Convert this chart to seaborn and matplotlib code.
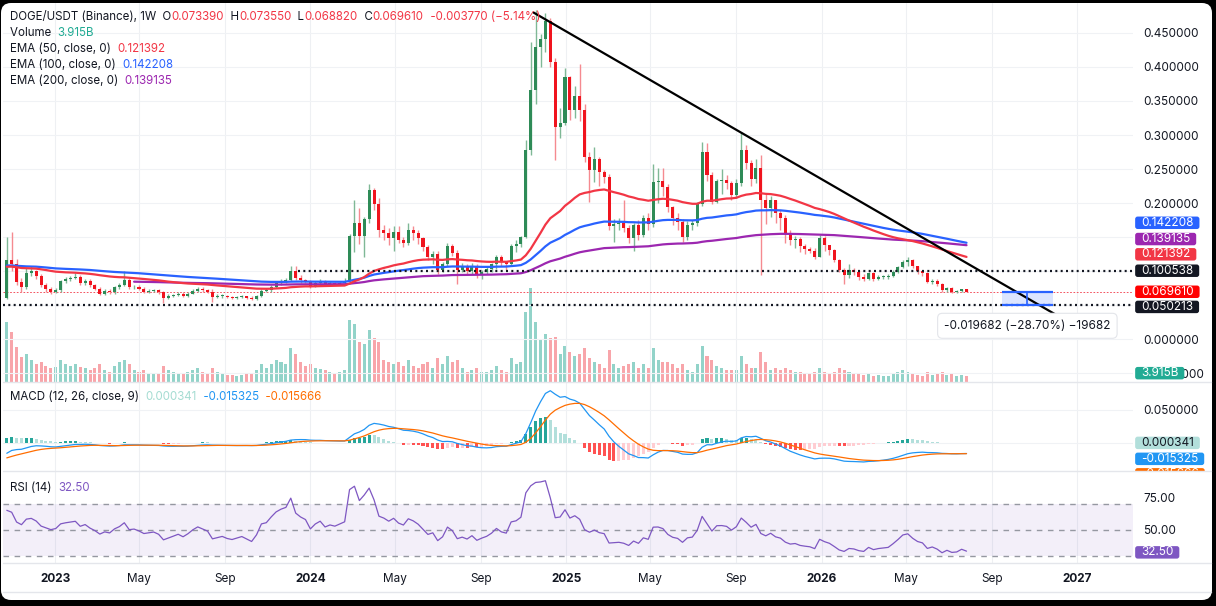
import numpy as np
import pandas as pd
import matplotlib
matplotlib.use("Agg")
import matplotlib.pyplot as plt
from matplotlib.patches import FancyBboxPatch, Rectangle, BoxStyle
from matplotlib.lines import Line2D
from matplotlib.transforms import IdentityTransform, Bbox
from matplotlib.offsetbox import TextArea, HPacker, AnchoredOffsetbox
import matplotlib.dates as mdates
import seaborn as sns

sns.set_theme(style="white")
plt.rcParams["font.family"] = ["Inter", "DejaVu Sans"]
plt.rcParams["axes.unicode_minus"] = False

# ---- weekly DOGE/USDT candles (Binance) ----
first_week = "2022-10-24"
first_open = 0.060

closes = [
    0.116, 0.111, 0.084, 0.076, 0.097, 0.100, 0.093, 0.079, 0.074, 0.069,
    0.072, 0.085, 0.088, 0.090, 0.092, 0.082, 0.086, 0.079, 0.074, 0.067,
    0.071, 0.069, 0.076, 0.080, 0.087, 0.076, 0.077, 0.074, 0.070, 0.071,
    0.072, 0.069, 0.061, 0.063, 0.065, 0.067, 0.064, 0.067, 0.071, 0.074,
    0.072, 0.070, 0.062, 0.063, 0.064, 0.062, 0.061, 0.062, 0.063, 0.061,
    0.059, 0.063, 0.071, 0.072, 0.077, 0.082, 0.085, 0.087, 0.100, 0.090,
    0.087, 0.085, 0.077, 0.082, 0.085, 0.080, 0.082, 0.081, 0.083, 0.085,
    0.152, 0.170, 0.152, 0.176, 0.219, 0.198, 0.161, 0.156, 0.148, 0.158,
    0.146, 0.141, 0.161, 0.156, 0.148, 0.135, 0.121, 0.125, 0.102, 0.111,
    0.137, 0.127, 0.102, 0.106, 0.100, 0.108, 0.094, 0.099, 0.103, 0.110,
    0.121, 0.113, 0.110, 0.137, 0.140, 0.150, 0.278, 0.366, 0.430, 0.441,
    0.468, 0.408, 0.312, 0.318, 0.385, 0.337, 0.358, 0.337, 0.268, 0.249,
    0.264, 0.246, 0.239, 0.167, 0.169, 0.171, 0.164, 0.148, 0.168, 0.153,
    0.178, 0.169, 0.231, 0.232, 0.224, 0.194, 0.178, 0.172, 0.150, 0.168,
    0.171, 0.199, 0.275, 0.241, 0.202, 0.233, 0.234, 0.230, 0.212, 0.229,
    0.278, 0.259, 0.236, 0.251, 0.205, 0.192, 0.204, 0.185, 0.178, 0.156,
    0.145, 0.147, 0.137, 0.133, 0.130, 0.121, 0.148, 0.138, 0.131, 0.117,
    0.101, 0.094, 0.101, 0.099, 0.092, 0.089, 0.097, 0.089, 0.091, 0.092,
    0.093, 0.099, 0.106, 0.114, 0.116, 0.107, 0.100, 0.097, 0.084, 0.086,
    0.081, 0.072, 0.075, 0.070, 0.0705, 0.07339, 0.06961,
]
highs = [
    0.150, 0.158, 0.118, 0.090, 0.104, 0.108, 0.102, 0.095, 0.082, 0.077,
    0.075, 0.087, 0.091, 0.093, 0.097, 0.094, 0.089, 0.088, 0.081, 0.076,
    0.074, 0.073, 0.078, 0.083, 0.100, 0.090, 0.080, 0.079, 0.076, 0.073,
    0.073, 0.073, 0.071, 0.066, 0.067, 0.069, 0.069, 0.069, 0.073, 0.077,
    0.076, 0.074, 0.073, 0.066, 0.066, 0.065, 0.064, 0.064, 0.065, 0.064,
    0.063, 0.065, 0.073, 0.075, 0.079, 0.084, 0.088, 0.090, 0.107, 0.108,
    0.094, 0.089, 0.087, 0.086, 0.088, 0.087, 0.085, 0.084, 0.086, 0.090,
    0.155, 0.205, 0.192, 0.180, 0.228, 0.222, 0.207, 0.168, 0.163, 0.167,
    0.166, 0.150, 0.170, 0.166, 0.160, 0.150, 0.138, 0.130, 0.129, 0.113,
    0.142, 0.140, 0.131, 0.112, 0.110, 0.112, 0.110, 0.101, 0.107, 0.112,
    0.124, 0.124, 0.115, 0.140, 0.145, 0.152, 0.292, 0.437, 0.484, 0.449,
    0.479, 0.472, 0.413, 0.340, 0.398, 0.387, 0.372, 0.405, 0.345, 0.275,
    0.283, 0.268, 0.248, 0.242, 0.176, 0.178, 0.205, 0.168, 0.171, 0.175,
    0.183, 0.186, 0.258, 0.252, 0.251, 0.228, 0.196, 0.186, 0.176, 0.173,
    0.175, 0.202, 0.289, 0.288, 0.246, 0.236, 0.250, 0.241, 0.233, 0.236,
    0.305, 0.286, 0.263, 0.265, 0.270, 0.215, 0.210, 0.205, 0.190, 0.182,
    0.160, 0.152, 0.150, 0.140, 0.135, 0.134, 0.153, 0.151, 0.139, 0.133,
    0.118, 0.104, 0.110, 0.104, 0.102, 0.096, 0.099, 0.098, 0.094, 0.094,
    0.095, 0.101, 0.108, 0.116, 0.120, 0.118, 0.108, 0.102, 0.098, 0.089,
    0.088, 0.082, 0.077, 0.076, 0.072, 0.0742, 0.07355,
]
lows = [
    0.059, 0.100, 0.080, 0.070, 0.073, 0.093, 0.088, 0.076, 0.070, 0.066,
    0.068, 0.070, 0.083, 0.086, 0.089, 0.079, 0.080, 0.077, 0.072, 0.065,
    0.065, 0.067, 0.067, 0.074, 0.078, 0.074, 0.074, 0.072, 0.068, 0.068,
    0.069, 0.067, 0.053, 0.059, 0.062, 0.063, 0.062, 0.062, 0.066, 0.069,
    0.069, 0.068, 0.055, 0.060, 0.061, 0.060, 0.059, 0.059, 0.060, 0.059,
    0.057, 0.058, 0.062, 0.069, 0.070, 0.075, 0.080, 0.083, 0.085, 0.087,
    0.083, 0.082, 0.075, 0.076, 0.080, 0.078, 0.078, 0.079, 0.080, 0.082,
    0.084, 0.128, 0.140, 0.120, 0.170, 0.190, 0.150, 0.146, 0.138, 0.130,
    0.142, 0.135, 0.138, 0.146, 0.140, 0.130, 0.116, 0.110, 0.095, 0.098,
    0.108, 0.122, 0.081, 0.098, 0.095, 0.095, 0.090, 0.089, 0.095, 0.099,
    0.103, 0.108, 0.102, 0.108, 0.128, 0.135, 0.148, 0.270, 0.345, 0.400,
    0.422, 0.400, 0.263, 0.295, 0.315, 0.322, 0.325, 0.320, 0.260, 0.202,
    0.231, 0.225, 0.229, 0.160, 0.143, 0.160, 0.158, 0.142, 0.130, 0.145,
    0.150, 0.160, 0.165, 0.200, 0.210, 0.187, 0.168, 0.160, 0.143, 0.145,
    0.160, 0.166, 0.195, 0.232, 0.198, 0.200, 0.214, 0.220, 0.205, 0.208,
    0.225, 0.250, 0.225, 0.230, 0.094, 0.169, 0.180, 0.170, 0.160, 0.142,
    0.138, 0.134, 0.128, 0.125, 0.127, 0.118, 0.120, 0.130, 0.124, 0.113,
    0.098, 0.081, 0.090, 0.094, 0.087, 0.085, 0.087, 0.086, 0.087, 0.088,
    0.089, 0.092, 0.097, 0.104, 0.108, 0.105, 0.095, 0.093, 0.082, 0.081,
    0.078, 0.070, 0.069, 0.068, 0.068, 0.0695, 0.06882,
]
# weekly volume, billions of DOGE
volume_b = [
    39.0, 32.5, 22.8, 16.3, 18.2, 14.3, 11.7, 13.0, 10.4, 9.1,
    9.8, 14.3, 11.7, 10.4, 11.7, 9.8, 9.1, 7.8, 9.1, 11.7,
    7.8, 6.5, 10.4, 13.0, 14.3, 11.7, 7.8, 6.5, 7.8, 5.9,
    5.2, 5.9, 10.4, 7.8, 6.5, 5.9, 5.9, 6.5, 7.8, 9.1,
    6.5, 5.2, 9.1, 6.5, 5.2, 4.6, 4.6, 3.9, 4.6, 5.2,
    5.9, 7.8, 11.7, 9.1, 11.7, 14.3, 13.0, 11.7, 22.1, 18.2,
    13.0, 10.4, 11.7, 9.1, 8.5, 7.8, 6.5, 5.9, 6.5, 7.8,
    40.3, 37.7, 26.0, 24.7, 33.8, 28.6, 26.0, 14.3, 13.0, 11.7,
    13.0, 10.4, 14.3, 10.4, 9.1, 11.7, 13.0, 9.1, 15.6, 11.7,
    16.9, 13.0, 14.3, 9.1, 6.5, 7.8, 9.1, 6.5, 6.5, 7.8,
    10.4, 7.8, 6.5, 15.6, 11.7, 13.0, 45.5, 60.5, 39.0, 27.3,
    31.2, 28.6, 29.3, 18.2, 23.4, 19.5, 16.9, 18.2, 22.1, 15.6,
    13.0, 11.7, 9.1, 20.8, 11.7, 9.1, 10.4, 11.7, 13.0, 9.1,
    11.7, 9.1, 22.1, 14.3, 13.0, 13.0, 11.7, 9.1, 11.7, 7.8,
    6.5, 11.7, 23.4, 16.9, 14.3, 10.4, 9.1, 7.8, 7.8, 7.8,
    16.9, 11.7, 9.1, 9.1, 19.5, 13.0, 7.8, 9.1, 7.8, 9.1,
    7.8, 6.5, 6.5, 5.2, 5.2, 6.5, 9.1, 6.5, 5.2, 6.5,
    9.1, 7.8, 6.5, 5.2, 5.2, 4.6, 5.2, 3.9, 4.6, 3.9,
    3.9, 5.2, 6.5, 7.8, 6.5, 5.2, 4.6, 3.9, 6.5, 4.6,
    5.2, 6.5, 4.6, 5.2, 3.9, 4.6, 3.915,
]

# indicator state carried in from the history before the first visible bar
ema50_seed = 0.106
ema100_seed = 0.108
ema200_first_bar = 26
ema200_seed = 0.0845
macd_seeds = (0.064, 0.085, -0.024)   # ema12, ema26, signal
rsi_seeds = (0.007, 0.006)            # avg gain, avg loss

# drawings on the chart
trend_dates = ["2024-11-15", "2026-12-11"]
trend_prices = [0.480, 0.0304]
level_hi, level_hi_from = 0.100538, "2023-12-15"
level_lo = 0.050213
last_price = 0.069610
range_dates = ["2026-09-16", "2026-11-27"]
range_label = "-0.019682 (\u221228.70%) \u221219682"

tick_dates = ["2023-01-01", "2023-05-01", "2023-09-01", "2024-01-01", "2024-05-01",
              "2024-09-01", "2025-01-01", "2025-05-01", "2025-09-01", "2026-01-01",
              "2026-05-01", "2026-09-01", "2027-01-01"]
tick_text = ["2023", "May", "Sep", "2024", "May", "Sep", "2025", "May", "Sep",
             "2026", "May", "Sep", "2027"]

# ---- derived series ----
dates = pd.date_range(first_week, periods=len(closes), freq="7D")
c = np.array(closes)
o = np.r_[first_open, c[:-1]]
h = np.array(highs)
l = np.array(lows)
up = c >= o


def ema(vals, n, seed):
    a = 2.0 / (n + 1)
    out, prev = [], seed
    for v in vals:
        prev = prev + a * (v - prev)
        out.append(prev)
    return np.array(out)


ema50 = ema(c, 50, ema50_seed)
ema100 = ema(c, 100, ema100_seed)
ema200 = np.full(len(c), np.nan)
ema200[ema200_first_bar:] = ema(c[ema200_first_bar:], 200, ema200_seed)

macd = ema(c, 12, macd_seeds[0]) - ema(c, 26, macd_seeds[1])
signal = ema(macd, 9, macd_seeds[2])
hist = macd - signal

ag, al = rsi_seeds
rsi = []
for d in np.diff(np.r_[first_open, c]):
    ag = (ag * 13 + max(d, 0)) / 14
    al = (al * 13 + max(-d, 0)) / 14
    rsi.append(100 - 100 / (1 + ag / al))

ind = pd.DataFrame({"date": dates, "ema50": ema50, "ema100": ema100, "ema200": ema200,
                    "macd": macd, "signal": signal, "rsi": rsi})

# ---- figure ----
W, H = 1216, 606
UP, DN = "#2e8b57", "#f0141e"
TXT = "#131722"
fig = plt.figure(figsize=(W / 100, H / 100), dpi=100, facecolor="black")
panel = FancyBboxPatch((1, 6), 1211, 597, boxstyle="round,pad=0,rounding_size=10",
                       transform=IdentityTransform(), facecolor="white", edgecolor="none", zorder=-10)
fig.add_artist(panel)


def px_axes(top, bottom, share=None):
    return fig.add_axes([3 / W, 1 - bottom / H, 1130 / W, (bottom - top) / H], sharex=share)


ax = px_axes(3, 382)
axm = px_axes(382, 471, ax)
axr = px_axes(471, 563, ax)
axv = ax.twinx()
ax.set_zorder(axv.get_zorder() + 1)
for a in (ax, axm, axr, axv):
    a.set_facecolor("none")
    for s in a.spines.values():
        s.set_visible(False)
axv.axis("off")

xlim = (pd.Timestamp("2022-10-18 14:00"), pd.Timestamp("2027-03-22"))
ax.set_xlim(*xlim)

# volume
vol_colors = np.where(up, "#92d3c9", "#f8a5aa")
axv.bar(dates, volume_b, width=4.3, color=vol_colors, linewidth=0)
axv.set_ylim(0, 245)

# candles
wick_colors = np.where(up, "#7fb896", "#f58a90")
body_lo = np.minimum(o, c)
body_h = np.maximum(np.abs(c - o), 0.0012)
ax.vlines(dates, l, h, colors=wick_colors, lw=1, zorder=3)
ax.bar(dates, body_h, bottom=body_lo, width=4.3, color=np.where(up, UP, DN), linewidth=0, zorder=4)

# EMAs
sns.lineplot(data=ind, x="date", y="ema200", ax=ax, color="#9c27b0", lw=1.6, legend=False, zorder=5)
sns.lineplot(data=ind, x="date", y="ema100", ax=ax, color="#2962ff", lw=1.6, legend=False, zorder=5)
sns.lineplot(data=ind, x="date", y="ema50", ax=ax, color="#f23645", lw=1.6, legend=False, zorder=5)

# levels, trendline, range tool
ax.hlines(level_hi, pd.Timestamp(level_hi_from), xlim[1], colors=TXT, lw=1.6,
          linestyles=(0, (0.9, 1.5)), zorder=6)
ax.hlines(level_lo, xlim[0], xlim[1], colors=TXT, lw=1.6, linestyles=(0, (0.9, 1.5)), zorder=6)
ax.hlines(last_price, xlim[0], xlim[1], colors="#f23645", lw=0.6, linestyles=(0, (2, 2)), zorder=2)
ax.plot(pd.to_datetime(trend_dates), trend_prices, color="black", lw=1.6,
        solid_capstyle="round", zorder=7)

r0, r1 = pd.to_datetime(range_dates)
rmid = r0 + (r1 - r0) / 2
ax.add_patch(Rectangle((mdates.date2num(r0), level_lo), (r1 - r0).days, last_price - level_lo,
                       facecolor="#2962ff", alpha=0.16, edgecolor="none", zorder=6))
ax.hlines([level_lo, last_price], r0, r1, colors="#2962ff", lw=1.6, zorder=7)
ax.vlines(rmid, level_lo, last_price, colors="#2962ff", lw=1.2, zorder=7)
ax.annotate(range_label, xy=(rmid, level_lo), xytext=(0, -15), textcoords="offset points",
            ha="center", va="center", fontsize=8.5, color=TXT, zorder=9,
            bbox=dict(boxstyle="round,pad=0.55,rounding_size=0.4", fc="white", ec="#e3e5ea", lw=0.8))

ax.set_ylim(-0.063, 0.494)
price_ticks = [-0.05, 0, 0.05, 0.10, 0.15, 0.20, 0.25, 0.30, 0.35, 0.40, 0.45]
hidden_ticks = (0.05, 0.10, 0.15)   # covered by the value tags in the reference
ax.yaxis.tick_right()
ax.set_yticks(price_ticks)
ax.set_yticklabels(["" if v in hidden_ticks else f"{v:.6f}" for v in price_ticks])

# MACD
hist_colors = []
prev = 0.0
for v in hist:
    if v >= 0:
        hist_colors.append("#26a69a" if v >= prev else "#b2dfdb")
    else:
        hist_colors.append("#ff5252" if v < prev else "#ffcdd2")
    prev = v
axm.bar(dates, hist, width=4.3, color=hist_colors, linewidth=0, zorder=3)
sns.lineplot(data=ind, x="date", y="macd", ax=axm, color="#2196f3", lw=0.9, legend=False, zorder=4)
sns.lineplot(data=ind, x="date", y="signal", ax=axm, color="#ff6d00", lw=0.9, legend=False, zorder=4)
axm.set_ylim(-0.042, 0.092)
axm.yaxis.tick_right()
axm.set_yticks([0, 0.05])
axm.set_yticklabels(["", "0.050000"])

# RSI
axr.axhspan(30, 70, color="#7e57c2", alpha=0.09, lw=0)
for lvl in (70, 50, 30):
    axr.axhline(lvl, color="#9598a1", lw=1, dashes=(4, 4), zorder=2)
sns.lineplot(data=ind, x="date", y="rsi", ax=axr, color="#7e57c2", lw=0.9, legend=False, zorder=4)
axr.set_ylim(24.2, 96)
axr.yaxis.tick_right()
axr.set_yticks([50, 75])
axr.set_yticklabels(["50.00", "75.00"])

# axes cosmetics
for a in (ax, axm, axr):
    a.set(xlabel="", ylabel="")
    a.set_xticks(pd.to_datetime(tick_dates))
    a.grid(True, axis="x", color="#eef0f3", lw=0.8)
    a.tick_params(axis="both", length=0, labelsize=8.5, labelcolor=TXT, pad=7.2)
    a.tick_params(axis="x", labelbottom=False)
ax.grid(True, axis="y", color="#f0f2f5", lw=0.8)
axm.grid(True, axis="y", color="#f0f2f5", lw=0.8)
axr.tick_params(axis="x", labelbottom=True)
axr.set_xticklabels(tick_text)
for lbl in axr.get_xticklabels():
    if lbl.get_text().isdigit():
        lbl.set_fontweight("bold")

for y_px in (382, 471, 563, 592):
    fig.add_artist(Line2D([3, 1211], [H - y_px, H - y_px], transform=IdentityTransform(),
                          color="#e4e6eb", lw=1))


# price tags on the right scale
def tag_shape(x0, y0, width, height, mutation_size):
    padx, pady = 0.5 * mutation_size, 0.02 * mutation_size
    return BoxStyle.Round(pad=0, rounding_size=2.5)(x0 - padx, y0 - pady,
                                                    width + 2 * padx, height + 2 * pady, 1)


def tag(axis, value, text, face, fg="white", dy=0, clip=None, scale=None):
    scale = scale or axis
    t = axis.annotate(text, xy=(1, value), xycoords=scale.get_yaxis_transform(),
                      xytext=(5.8, dy), textcoords="offset points", ha="left", va="center",
                      fontsize=8.5, color=fg, zorder=20, annotation_clip=False,
                      bbox=dict(boxstyle=tag_shape, fc=face, ec="none"))
    if clip is not None:
        t.set_clip_box(clip)
        t.set_clip_on(True)


tag(ax, 0.142208, "0.142208", "#2962ff", dy=14.1)
tag(ax, 0.139135, "0.139135", "#9c27b0", dy=3.9)
tag(ax, 0.121392, "0.121392", "#f23645", dy=1.6)
tag(ax, level_hi, "0.100538", "#131722")
tag(ax, last_price, "0.069610", "#ff0000")
tag(ax, level_lo, "0.050213", "#131722", dy=-1.4)
tag(ax, volume_b[-1], "3.915B", "#22ab94", dy=2, scale=axv)
macd_clip = Bbox.from_extents(1133, H - 471, 1212, H - 382)
tag(axm, 0.000341, "0.000341", "#b2dfdb", fg=TXT)
tag(axm, -0.015666, "-0.015666", "#ff6d00", dy=-15, clip=macd_clip)
tag(axm, -0.015325, "-0.015325", "#2196f3", dy=-4, clip=macd_clip)
tag(axr, 32.50, "32.50", "#7e57c2")


# legends in the top-left corners
def text_row(parts, y_px, x_px=10, size=8.3):
    kids = [TextArea(s, textprops=dict(color=col, fontsize=size)) for s, col in parts]
    box = AnchoredOffsetbox(loc="center left", child=HPacker(children=kids, align="baseline", pad=0, sep=0),
                            pad=0, borderpad=0, frameon=False,
                            bbox_to_anchor=(x_px / W, 1 - y_px / H), bbox_transform=fig.transFigure)
    box.set_zorder(30)
    fig.add_artist(box)


RED = "#f23645"
text_row([("DOGE/USDT (Binance), 1W", TXT), ("  O", TXT), ("0.073390", RED), ("  H", TXT),
          ("0.073550", RED), ("  L", TXT), ("0.068820", RED), ("  C", TXT), ("0.069610", RED),
          ("  -0.003770 (\u22125.14%)", RED)], 17)
text_row([("Volume  ", TXT), ("3.915B", "#22ab94")], 33)
text_row([("EMA (50, close, 0)  ", TXT), ("0.121392", RED)], 49)
text_row([("EMA (100, close, 0)  ", TXT), ("0.142208", "#2962ff")], 65)
text_row([("EMA (200, close, 0)  ", TXT), ("0.139135", "#9c27b0")], 81)
text_row([("MACD (12, 26, close, 9)  ", TXT), ("0.000341", "#a5dcd2"), ("  -0.015325", "#2196f3"),
          ("  -0.015666", "#ff6d00")], 397)
text_row([("RSI (14)  ", TXT), ("32.50", "#7e57c2")], 488)

fig.savefig("out.png", dpi=100, facecolor="black")
